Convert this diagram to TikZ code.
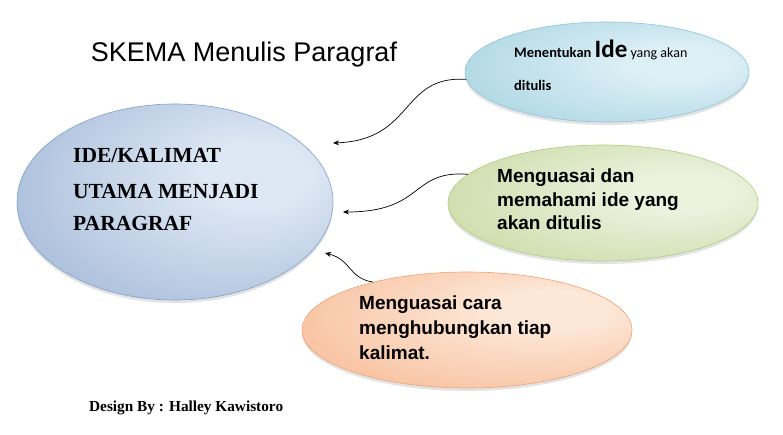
\documentclass[tikz,border=0pt]{standalone}
\usepackage{fontspec}
\setmainfont{Liberation Sans}
\newfontfamily\serifB{Liberation Serif}
\newfontfamily\carl{Carlito}
\usetikzlibrary{shapes.geometric,arrows.meta,shadows}
\definecolor{bluD}{RGB}{122,152,196}
\definecolor{bluL}{RGB}{222,232,244}
\definecolor{bluE}{RGB}{130,160,200}
\definecolor{cyaD}{RGB}{130,192,212}
\definecolor{cyaL}{RGB}{222,240,246}
\definecolor{cyaE}{RGB}{140,195,215}
\definecolor{grnD}{RGB}{176,200,122}
\definecolor{grnL}{RGB}{236,242,222}
\definecolor{grnE}{RGB}{178,202,130}
\definecolor{orgD}{RGB}{243,158,108}
\definecolor{orgL}{RGB}{253,232,216}
\definecolor{orgE}{RGB}{238,162,118}
\pgfdeclareradialshading{shBlue}{\pgfpoint{15bp}{8bp}}{color(0bp)=(bluL); color(8bp)=(bluL); color(60bp)=(bluD)}
\pgfdeclareradialshading{shCyan}{\pgfpoint{15bp}{5bp}}{color(0bp)=(cyaL); color(8bp)=(cyaL); color(60bp)=(cyaD)}
\pgfdeclareradialshading{shGreen}{\pgfpoint{15bp}{5bp}}{color(0bp)=(grnL); color(8bp)=(grnL); color(60bp)=(grnD)}
\pgfdeclareradialshading{shOrange}{\pgfpoint{15bp}{10bp}}{color(0bp)=(orgL); color(8bp)=(orgL); color(60bp)=(orgD)}
\tikzset{
  bub/.style={ellipse, inner sep=0pt, line width=0.6pt,
    drop shadow={opacity=0.22, shadow xshift=0pt, shadow yshift=-3pt}},
  txt/.style={anchor=base west, inner sep=0pt},
  head/.style={txt, font=\serifB\bfseries\fontsize{21.5}{21.5}\selectfont},
  body/.style={txt, font=\bfseries\fontsize{19}{19}\selectfont},
  con/.style={draw=black, line width=0.7pt, -{Stealth[length=6pt,width=5pt]}}
}
\begin{document}
\begin{tikzpicture}[x=1pt,y=-1pt]
\useasboundingbox[fill=white] (0,0) rectangle (783,435);
% title
\node[anchor=base, inner sep=0pt, font=\fontsize{27}{27}\selectfont] (title) at (244,62) {SKEMA Menulis Paragraf};
% ellipses
\node[bub, shading=shBlue, draw=bluE, minimum width=316pt, minimum height=196pt] (main) at (175,202) {};
\node[bub, shading=shCyan, draw=cyaE, minimum width=284pt, minimum height=100pt] (top) at (607,72) {};
\node[bub, shading=shGreen, draw=grnE, minimum width=310pt, minimum height=116pt] (green) at (603,203) {};
\node[bub, shading=shOrange, draw=orgE, minimum width=330pt, minimum height=116pt] (orange) at (467,330) {};
% main text
\node[head] (m1) at (73,163) {IDE/KALIMAT};
\node[head] (m2) at (73,199) {UTAMA MENJADI};
\node[head] (m3) at (73,231) {PARAGRAF};
% top text
\node[txt] (t1) at (514,58) {\carl\bfseries\fontsize{14.5}{14.5}\selectfont Menentukan \fontsize{25}{25}\selectfont Ide\fontsize{14}{14}\selectfont\mdseries{} yang akan};
\node[txt, font=\carl\bfseries\fontsize{14.5}{14.5}\selectfont] (t2) at (514,91) {ditulis};
% green text
\node[body] (g1) at (497,183) {Menguasai dan};
\node[body] (g2) at (497,207) {memahami ide yang};
\node[body] (g3) at (497,230) {akan ditulis};
% orange text
\node[body] (o1) at (359,309) {Menguasai cara};
\node[body] (o2) at (359,334) {menghubungkan tiap};
\node[body] (o3) at (359,359) {kalimat.};
% credit
\node[txt, font=\serifB\bfseries\fontsize{15.3}{15.3}\selectfont] (credit) at (89,411) {Design By : Halley Kawistoro};
% connectors
\coordinate (a1) at (333,143);
\coordinate (a2) at (343,212);
\coordinate (a3) at (325,253);
\draw[con] (top.183) .. controls (400,75) and (415,140) .. (a1);
\draw[con] (green.168) .. controls (410,170) and (425,212) .. (a2);
\draw[con] (orange.153) .. controls (348,278) and (352,260) .. (a3);
\end{tikzpicture}
\end{document}
